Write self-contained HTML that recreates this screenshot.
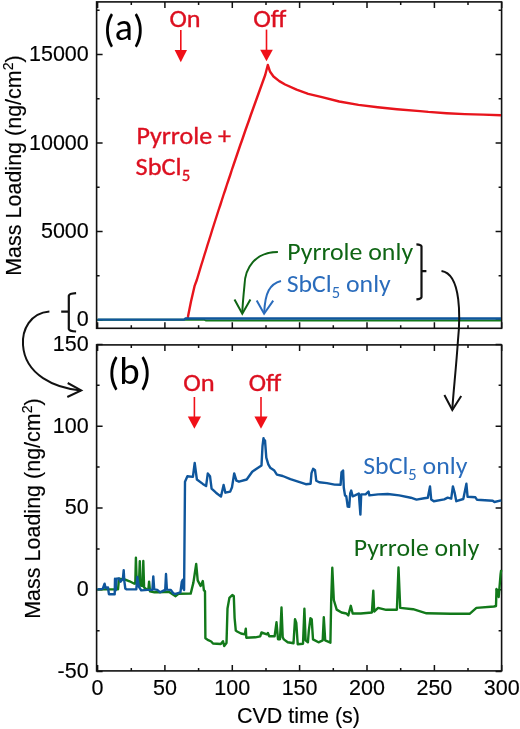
<!DOCTYPE html>
<html><head><meta charset="utf-8"><title>Mass loading vs CVD time</title>
<style>html,body{margin:0;padding:0;background:#fff;}svg{display:block;}</style></head>
<body><svg width="520" height="729" viewBox="0 0 520 729"><rect x="96.6" y="1.9" width="405" height="326.4" fill="none" stroke="#111" stroke-width="1.6"/>
<rect x="96.6" y="344.9" width="405" height="326" fill="none" stroke="#111" stroke-width="1.6"/>
<path d="M97.6 1.9v6M97.6 328.3v-6M97.6 344.9v6M97.6 670.9v-6M131.3 1.9v3M131.3 328.3v-3M131.3 344.9v3M131.3 670.9v-3M164.9 1.9v6M164.9 328.3v-6M164.9 344.9v6M164.9 670.9v-6M198.6 1.9v3M198.6 328.3v-3M198.6 344.9v3M198.6 670.9v-3M232.3 1.9v6M232.3 328.3v-6M232.3 344.9v6M232.3 670.9v-6M266 1.9v3M266 328.3v-3M266 344.9v3M266 670.9v-3M299.6 1.9v6M299.6 328.3v-6M299.6 344.9v6M299.6 670.9v-6M333.3 1.9v3M333.3 328.3v-3M333.3 344.9v3M333.3 670.9v-3M367 1.9v6M367 328.3v-6M367 344.9v6M367 670.9v-6M400.7 1.9v3M400.7 328.3v-3M400.7 344.9v3M400.7 670.9v-3M434.4 1.9v6M434.4 328.3v-6M434.4 344.9v6M434.4 670.9v-6M468 1.9v3M468 328.3v-3M468 344.9v3M468 670.9v-3M501.7 1.9v6M501.7 328.3v-6M501.7 344.9v6M501.7 670.9v-6M96.6 320h6M501.6 320h-6M96.6 275.8h3M501.6 275.8h-3M96.6 231.5h6M501.6 231.5h-6M96.6 187.2h3M501.6 187.2h-3M96.6 143h6M501.6 143h-6M96.6 98.8h3M501.6 98.8h-3M96.6 54.5h6M501.6 54.5h-6M96.6 10.2h3M501.6 10.2h-3M96.6 671.6h6M501.6 671.6h-6M96.6 630.7h3M501.6 630.7h-3M96.6 589.8h6M501.6 589.8h-6M96.6 548.9h3M501.6 548.9h-3M96.6 508h6M501.6 508h-6M96.6 467.1h3M501.6 467.1h-3M96.6 426.2h6M501.6 426.2h-6M96.6 385.3h3M501.6 385.3h-3M96.6 344.4h6M501.6 344.4h-6" stroke="#111" stroke-width="1.5" fill="none"/>
<text x="88.8" y="325.7" text-anchor="end" font-family="Liberation Sans, Arial, sans-serif" font-size="21.5" fill="#000" stroke="#000" stroke-width="0.15">0</text>
<text x="88.8" y="238.4" text-anchor="end" font-family="Liberation Sans, Arial, sans-serif" font-size="21.5" fill="#000" stroke="#000" stroke-width="0.15">5000</text>
<text x="88.8" y="149.5" text-anchor="end" font-family="Liberation Sans, Arial, sans-serif" font-size="21.5" fill="#000" stroke="#000" stroke-width="0.15">10000</text>
<text x="88.8" y="60.9" text-anchor="end" font-family="Liberation Sans, Arial, sans-serif" font-size="21.5" fill="#000" stroke="#000" stroke-width="0.15">15000</text>
<text x="88.6" y="677.6" text-anchor="end" font-family="Liberation Sans, Arial, sans-serif" font-size="21.5" fill="#000" stroke="#000" stroke-width="0.15">-50</text>
<text x="88.6" y="595.9" text-anchor="end" font-family="Liberation Sans, Arial, sans-serif" font-size="21.5" fill="#000" stroke="#000" stroke-width="0.15">0</text>
<text x="88.6" y="514.3" text-anchor="end" font-family="Liberation Sans, Arial, sans-serif" font-size="21.5" fill="#000" stroke="#000" stroke-width="0.15">50</text>
<text x="88.6" y="432.8" text-anchor="end" font-family="Liberation Sans, Arial, sans-serif" font-size="21.5" fill="#000" stroke="#000" stroke-width="0.15">100</text>
<text x="88.6" y="351.2" text-anchor="end" font-family="Liberation Sans, Arial, sans-serif" font-size="21.5" fill="#000" stroke="#000" stroke-width="0.15">150</text>
<text x="97.6" y="695" text-anchor="middle" font-family="Liberation Sans, Arial, sans-serif" font-size="21.5" fill="#000" stroke="#000" stroke-width="0.15">0</text>
<text x="164.9" y="695" text-anchor="middle" font-family="Liberation Sans, Arial, sans-serif" font-size="21.5" fill="#000" stroke="#000" stroke-width="0.15">50</text>
<text x="232.3" y="695" text-anchor="middle" font-family="Liberation Sans, Arial, sans-serif" font-size="21.5" fill="#000" stroke="#000" stroke-width="0.15">100</text>
<text x="299.6" y="695" text-anchor="middle" font-family="Liberation Sans, Arial, sans-serif" font-size="21.5" fill="#000" stroke="#000" stroke-width="0.15">150</text>
<text x="367" y="695" text-anchor="middle" font-family="Liberation Sans, Arial, sans-serif" font-size="21.5" fill="#000" stroke="#000" stroke-width="0.15">200</text>
<text x="434.4" y="695" text-anchor="middle" font-family="Liberation Sans, Arial, sans-serif" font-size="21.5" fill="#000" stroke="#000" stroke-width="0.15">250</text>
<text x="501.7" y="695" text-anchor="middle" font-family="Liberation Sans, Arial, sans-serif" font-size="21.5" fill="#000" stroke="#000" stroke-width="0.15">300</text>
<text x="237" y="723" font-family="Liberation Sans, Arial, sans-serif" font-size="21.5" fill="#000" stroke="#000" stroke-width="0.15">CVD time (s)</text>
<text transform="translate(20.5,275.8) rotate(-90)" font-family="Liberation Sans, Arial, sans-serif" font-size="21.5" fill="#000" stroke="#000" stroke-width="0.15">Mass Loading (ng/cm<tspan font-size="14" dy="-8">2</tspan><tspan dy="8">)</tspan></text>
<text transform="translate(40.4,618.8) rotate(-90)" font-family="Liberation Sans, Arial, sans-serif" font-size="21.5" fill="#000" stroke="#000" stroke-width="0.15">Mass Loading (ng/cm<tspan font-size="14" dy="-8">2</tspan><tspan dy="8">)</tspan></text>
<polyline points="187.3,319.6 187.9,317 191,301.6 194.7,285.6 196.8,280 198.3,275 199.8,270 201.3,265 202.9,260 204.4,255 206,250 207.5,245 209.1,240 210.7,235 212.2,230 213.8,225 215.4,220 217,215 218.6,210 220.3,205 221.9,200 223.5,195 225.2,190 226.8,185 228.5,180 230.2,175 231.8,170 233.5,165 235.2,160 236.9,155 238.6,150 240.3,145 242.1,140 243.8,135 245.5,130 247.3,125 249.1,120 250.8,115 252.6,110 254.4,105 256.2,100 258,95 259.8,90 261.6,85 263.4,80 265.2,75 267.8,65 270.1,71.8 273.5,76.5 279.3,81.1 285.1,84.5 296.6,89.7 308.2,93.8 322,97.2 339.2,101.5 358.5,104.9 377.7,107.2 396.9,109.2 420,111.1 428.3,111.9 446.6,113.2 464.8,114.1 483.1,114.6 501,115.2" fill="none" stroke="#e8141c" stroke-width="2.4" stroke-linejoin="round"/>
<polyline points="97.6,319.7 204,319.7 206,320.6 501,320.6" fill="none" stroke="#12791a" stroke-width="2"/>
<polyline points="97.6,319.7 184,319.7 185.5,318.5 501,318.5" fill="none" stroke="#0f569c" stroke-width="2.3"/>
<polyline points="97.4,589.4 118,589.4 119,578.8 125.8,579.8 129.6,581.3 134.4,583.7 135.3,583.5 135.9,557.7 136.6,578.8 138.9,585.6 139.8,561.3 140.6,585.6 142.6,586 143.3,561 144.1,587.5 146.7,589.4 148.3,589.8 149.1,581.7 150,591.3 154.4,592.3 159.2,592.3 168.8,591.8 175.6,596.2 178.5,593.8 190.7,593.6 193.4,582.6 196.2,564 197.7,580.4 200.6,586 202.8,581 203.9,590.3 205,591.2 205.4,638.3 208.3,640.2 211.2,641.5 213,643.5 220.8,644 223,641.2 224.2,646 226.5,643 227.5,608.5 229.4,597.9 232.3,595 233.8,596 234.6,618 235.8,630.6 237.1,631.5 241,633.5 244.8,634.4 245.8,628.7 246.3,637.7 255.4,637.3 260.2,636.3 261.5,632.5 266.9,634.4 267.9,633 269.2,636.3 274.6,636.3 276.5,622.3 278,639.2 280,639.2 281.5,607.5 282.7,637.3 283.8,639.4 287.7,642.3 293.5,643.3 295,619.2 296.3,623 297.7,644.2 303,643.8 304.4,608.7 305.6,640.4 307.9,642.3 308.8,630.8 310.4,618.3 311.7,619.2 313,639.4 318.5,642.3 322.7,640.4 323.8,617.3 325.2,640.4 330.4,642.7 331.2,600 332.3,567.7 333.8,600 336.7,609.6 341.5,612.5 346.3,613.5 348.3,615.4 350.8,605.8 352.7,613.5 360.8,613.5 371.9,612.5 373.3,590.8 374.2,611.5 378.1,607.9 386.2,609.8 396.9,609.8 398.5,567.5 400.2,607.9 413.1,609.2 426.5,613.3 450.8,613.8 469.6,613.8 476.4,607.9 493.9,606.5 496,606 496.5,589 498.7,597 500.6,574.2 501.2,570" fill="none" stroke="#12791a" stroke-width="2.4" stroke-linejoin="round"/>
<polyline points="97.4,589.4 102.7,588.9 104.6,583.7 105.6,588 108,587.5 108.9,594.2 114.7,594.2 115,578.8 115.7,590.4 116.6,578.8 119,578.4 120.5,581.7 122.9,578.8 123.7,570.2 124.3,580.8 125.3,588.5 126.7,589.4 136.3,589.4 137.3,577 138.8,586.5 141.2,590.4 147.7,589.9 152.4,589.8 153.3,576.4 154.2,589.4 157.3,589.9 160.2,592.3 164,590.4 165.2,590.2 166,574 166.9,589.6 170.8,589.9 173.2,593.3 175.6,593.8 180.4,592.3 181.8,581.7 182.8,579.8 183.3,588.5 184.1,590 185,481.7 187.4,476.2 192.9,476.9 194.7,463 196.9,479.5 202.8,483.9 206.1,486 207.8,473.4 210,476.2 211.6,488.7 216,492.7 221,496.6 223.6,485 225.4,492.7 230.2,491.6 232,487.2 234.2,473.4 236.4,480.6 239,481.7 246.7,479.5 252.2,471.8 255.8,469.2 261.5,465.4 262.5,446.2 263.5,438.1 264.4,442.3 265,440.4 266.3,457.7 268.3,464.4 270.2,467.7 274,470.2 276.9,474.6 282.7,476 290.4,479.2 298.1,481.7 305.8,484.2 310.6,483.7 311.5,473.1 313.1,468.8 315,470.2 316.3,480.8 319.2,482.3 326.9,483.1 334.6,484.6 340.6,484.8 341.5,472.3 343.1,470.4 343.8,487.7 345,495.4 346.3,496.3 347.7,506.5 349.2,506.9 350.2,493.5 351.2,490.6 352.7,496.3 355,495.4 358.8,493.5 360.4,514.6 361.2,494.4 365.6,494.4 368.5,491.5 369.4,495.4 378.1,494.4 387.7,494 399.2,495.4 410.8,497.7 416.5,499.6 424.2,498.3 427.8,497.7 430,486.4 431.2,499.4 433.8,501.2 444.2,499.4 447.7,497.7 451.2,498.6 452.9,486.4 454.6,492.5 456.3,501.2 463.3,499 466.4,483.8 467.6,496.8 475.4,497.3 477.1,499.8 492.7,500.8 494.4,502 501.3,500.3" fill="none" stroke="#0f569c" stroke-width="2.4" stroke-linejoin="round"/>
<text x="103.25" y="41.9" font-family="Carlito, Liberation Sans, sans-serif" font-size="39" textLength="41.2" lengthAdjust="spacingAndGlyphs" fill="#000">(<tspan dy="-2.2">a</tspan><tspan dy="2.2">)</tspan></text>
<text x="169.5" y="26.7" font-family="Carlito, Liberation Sans, sans-serif" font-size="25" textLength="31.1" lengthAdjust="spacingAndGlyphs" fill="#dc1020" stroke="#dc1020" stroke-width="0.35">On</text>
<text x="253.2" y="26.7" font-family="Carlito, Liberation Sans, sans-serif" font-size="25" textLength="33.2" lengthAdjust="spacingAndGlyphs" fill="#dc1020" stroke="#dc1020" stroke-width="0.35">Off</text>
<path d="M180.8 30V51" stroke="#f01018" stroke-width="1.6"/><path d="M174.6 50H187L180.8 62.3Z" fill="#f01018"/>
<path d="M266.5 29.6V50.7" stroke="#f01018" stroke-width="1.6"/><path d="M260.2 49.7H272.8L266.5 61.3Z" fill="#f01018"/>
<text x="136.4" y="143.6" font-family="Carlito, Liberation Sans, sans-serif" font-size="25" textLength="94.6" lengthAdjust="spacingAndGlyphs" fill="#dc1020" stroke="#dc1020" stroke-width="0.35">Pyrrole +</text>
<text x="135.6" y="174.9" font-family="Carlito, Liberation Sans, sans-serif" font-size="25" textLength="54.6" lengthAdjust="spacingAndGlyphs" fill="#dc1020" stroke="#dc1020" stroke-width="0.35">SbCl<tspan font-size="16" dy="6">5</tspan></text>
<text x="287.2" y="260.3" font-family="Carlito, Liberation Sans, sans-serif" font-size="25" textLength="125.9" lengthAdjust="spacingAndGlyphs" fill="#0f6514">Pyrrole only</text>
<text x="286.7" y="291.7" font-family="Carlito, Liberation Sans, sans-serif" font-size="25" textLength="104.1" lengthAdjust="spacingAndGlyphs" fill="#2a6cbc">SbCl<tspan font-size="16" dy="6">5</tspan><tspan dy="-6"> only</tspan></text>
<text x="107.5" y="385.4" font-family="Carlito, Liberation Sans, sans-serif" font-size="39" textLength="44" lengthAdjust="spacingAndGlyphs" fill="#000">(<tspan dy="-1.7">b</tspan><tspan dy="1.7">)</tspan></text>
<text x="183.2" y="391.2" font-family="Carlito, Liberation Sans, sans-serif" font-size="25" textLength="31.4" lengthAdjust="spacingAndGlyphs" fill="#dc1020" stroke="#dc1020" stroke-width="0.35">On</text>
<text x="248.8" y="391.2" font-family="Carlito, Liberation Sans, sans-serif" font-size="25" textLength="32.5" lengthAdjust="spacingAndGlyphs" fill="#dc1020" stroke="#dc1020" stroke-width="0.35">Off</text>
<path d="M194.4 397V417.5" stroke="#f01018" stroke-width="1.6"/><path d="M187.8 416.5H201L194.4 428.8Z" fill="#f01018"/>
<path d="M261 397V417.5" stroke="#f01018" stroke-width="1.6"/><path d="M254.4 416.5H267.6L261 428.8Z" fill="#f01018"/>
<text x="363.2" y="474.4" font-family="Carlito, Liberation Sans, sans-serif" font-size="25" textLength="104.2" lengthAdjust="spacingAndGlyphs" fill="#2a6cbc">SbCl<tspan font-size="16" dy="6">5</tspan><tspan dy="-6"> only</tspan></text>
<text x="353.7" y="556.2" font-family="Carlito, Liberation Sans, sans-serif" font-size="25" textLength="125.7" lengthAdjust="spacingAndGlyphs" fill="#0f6514">Pyrrole only</text>
<path d="M277.9 251.9C255 252 245 268 244.5 285 243.5 295 242.5 305 242.3 313" fill="none" stroke="#0f6514" stroke-width="2"/>
<path d="M234.5 299.5L242.3 313.7 250.4 299.5" fill="none" stroke="#0f6514" stroke-width="2"/>
<path d="M281 281C270 284 265 292 264.2 313" fill="none" stroke="#2a6cbc" stroke-width="2"/>
<path d="M256.7 300.6L264.1 313.7 273.2 300.6" fill="none" stroke="#2a6cbc" stroke-width="2"/>
<path d="M416.4 244.3Q421.2 244.5 421.5 246.5V297Q421.2 299 416.4 299.3M421.5 271.1H426.4" fill="none" stroke="#111" stroke-width="2.2"/>
<path d="M441.5 271C462 274 460 320 458 340 456 370 453 395 452.3 410" fill="none" stroke="#111" stroke-width="2"/>
<path d="M444.4 395L452.3 410 461.2 396" fill="none" stroke="#111" stroke-width="2"/>
<path d="M76.1 293.2Q69.2 293.6 68.8 295.8V329Q69.2 331.2 76.1 331.5M61.2 311.7H68.8" fill="none" stroke="#111" stroke-width="2.2"/>
<path d="M49.4 311.5C30 313 22 330 23 345 25 375 55 388 81 390.4" fill="none" stroke="#111" stroke-width="2"/>
<path d="M67.7 383L81.2 390.4 67.3 397" fill="none" stroke="#111" stroke-width="2"/></svg></body></html>
